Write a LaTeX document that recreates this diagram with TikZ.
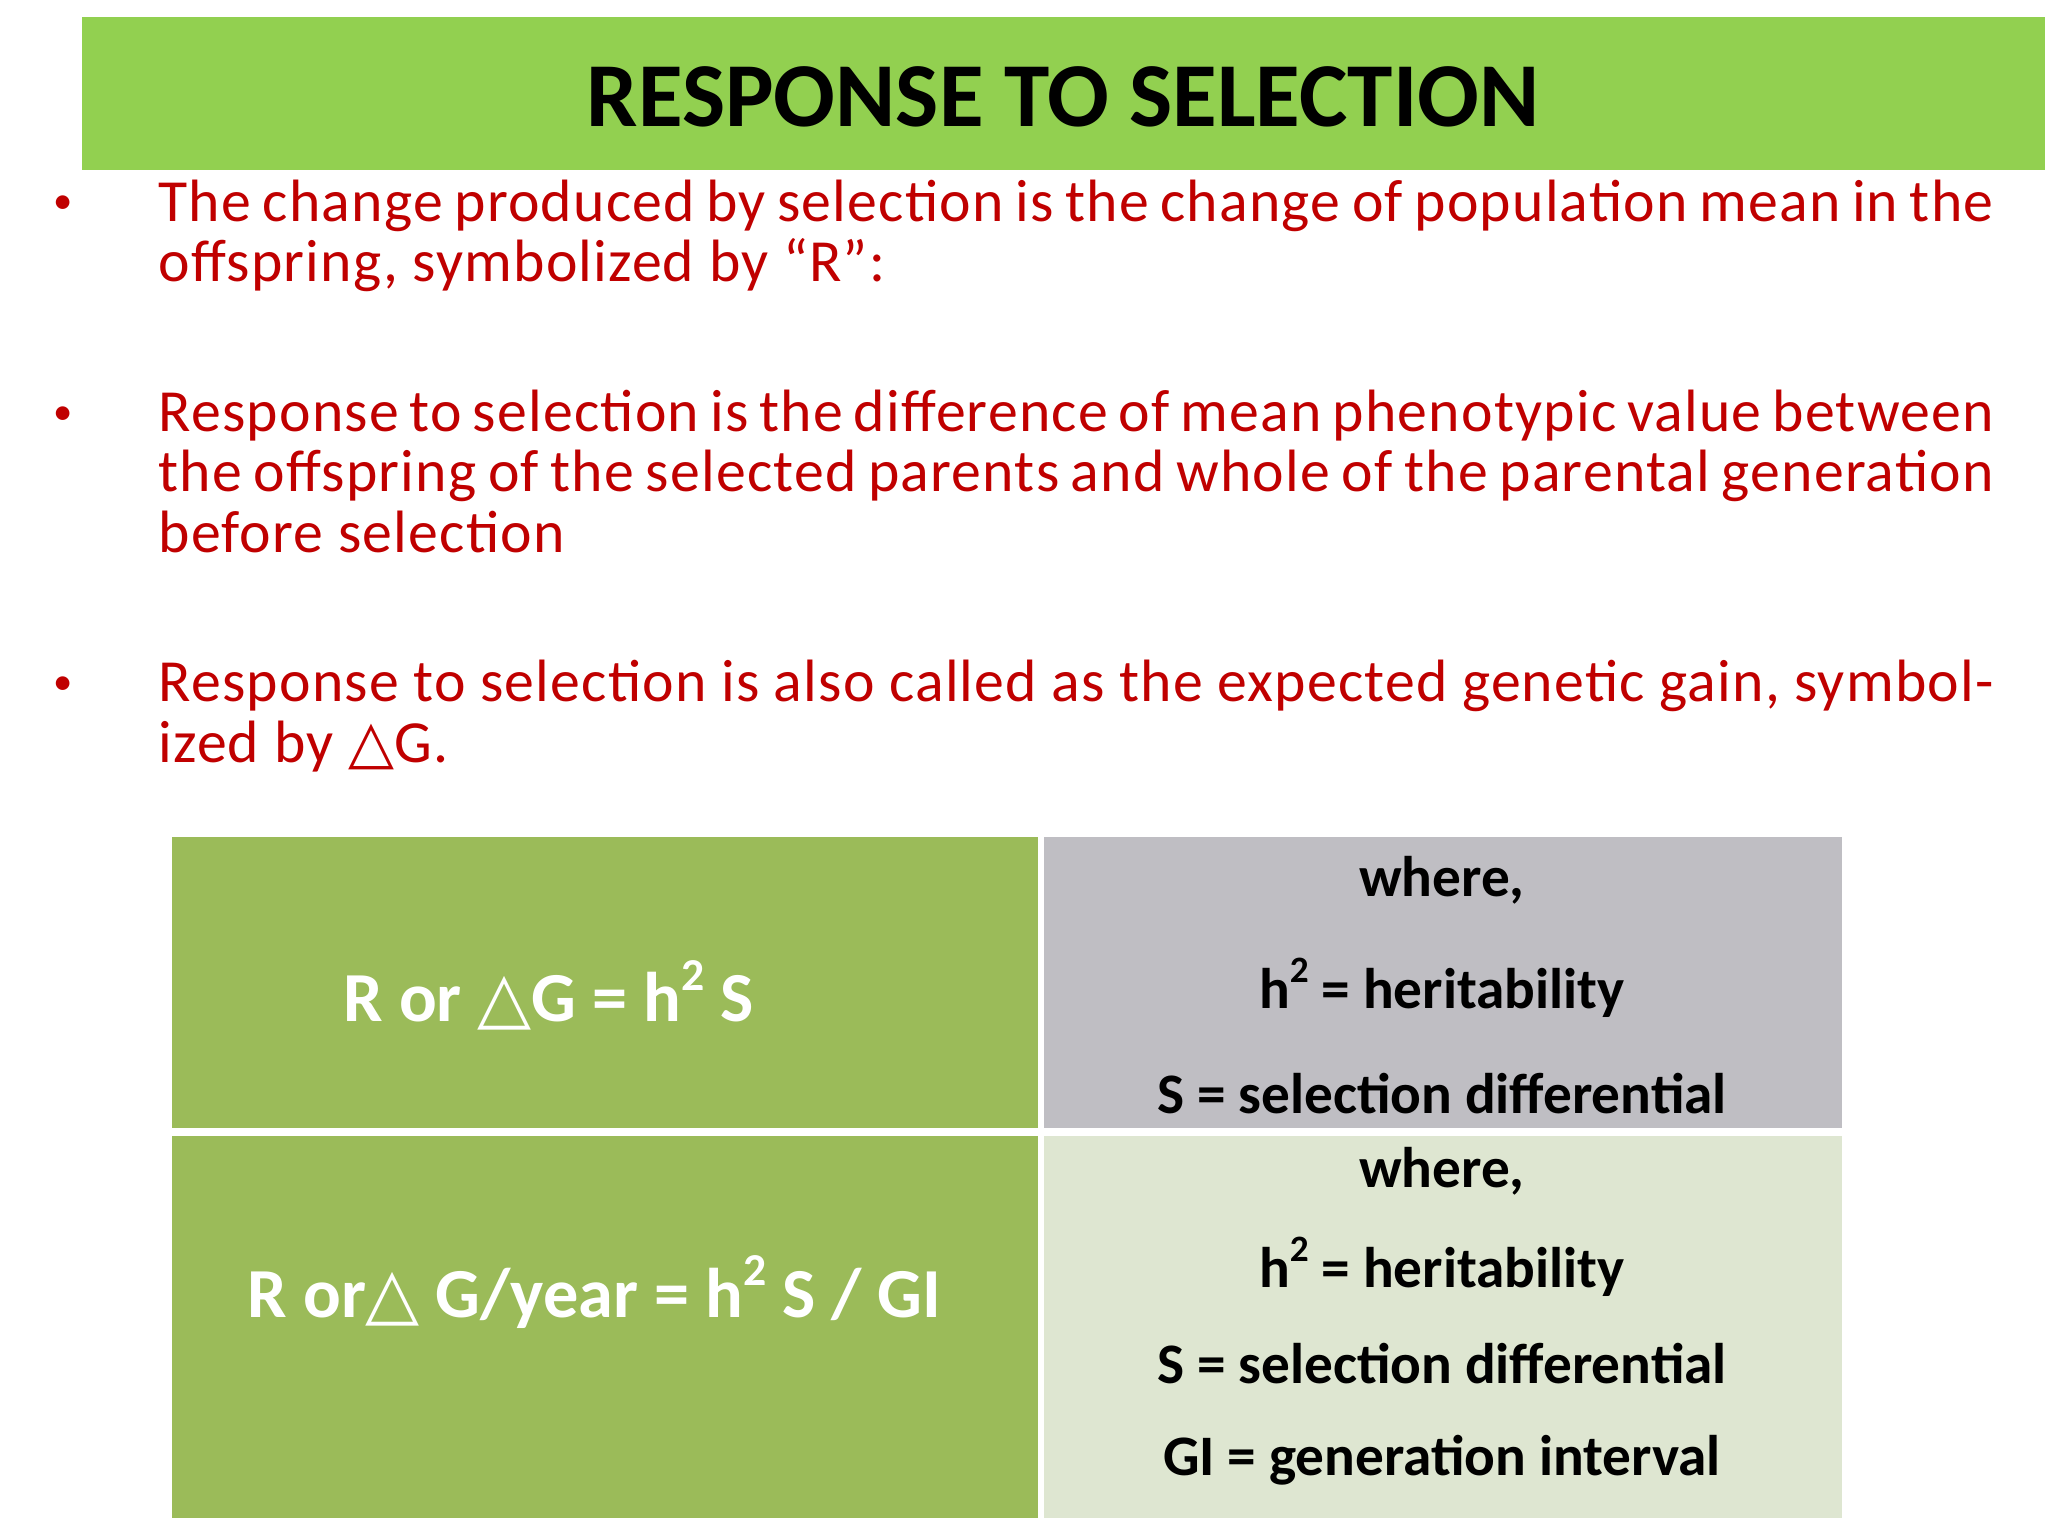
\documentclass[tikz,border=0pt]{standalone}
\usepackage{fontspec}
\setmainfont{Carlito}
\newfontfamily\bodyf[LetterSpace=2]{Carlito}
\newfontfamily\symf{DejaVu Sans}
\newcommand{\tri}{{\symf △}}
\newcommand{\sq}{\raisebox{0.45em}{\scalebox{0.65}{2}}}
\definecolor{titlegreen}{HTML}{92D050}
\definecolor{txtred}{HTML}{C00000}
\definecolor{cellgreen}{HTML}{9BBB59}
\definecolor{cellgrey}{HTML}{BFBEC3}
\definecolor{celllight}{HTML}{DEE6D1}
\begin{document}
\begin{tikzpicture}[x=0.01306cm,y=-0.01306cm,
  bul/.style={anchor=north west,text width=1405*0.01306cm,align=justify,inner sep=0,text=txtred,font=\bodyf\fontsize{17}{17.2}\selectfont},
  dot/.style={anchor=center,text=txtred,font=\fontsize{11}{13}\selectfont},
  lefttxt/.style={text=white,font=\fontsize{20}{24}\selectfont\bfseries},
  righttxt/.style={text=black,font=\fontsize{16.3}{18}\selectfont\bfseries}]
\useasboundingbox (0,0) rectangle (1568,1176);
\fill[white] (0,0) rectangle (1568,1176);
\fill[titlegreen] (63,13) rectangle (1566,130);
\node[font=\fontsize{26}{30}\selectfont\bfseries] (title) at (814,74) {RESPONSE TO SELECTION};
\node[dot] (d1) at (48,157) {•};
\node[bul] (b1) at (121,137) {\hyphenpenalty=10000 The change produced by selection is the change of population mean in the offspring, symbolized by “R”:};
\node[dot] (d2) at (48,318) {•};
\node[bul] (b2) at (121,298) {\hyphenpenalty=10000 Response to selection is the difference of mean phenotypic value between the offspring of the selected parents and whole of the parental generation before selection};
\node[dot] (d3) at (48,525) {•};
\node[bul] (b3) at (121,505) {\hyphenpenalty=10000 Response to selection is also called as the expected genetic gain, symbolized by \tri G.};
\fill[cellgreen] (132,641) rectangle (795,864);
\fill[cellgrey] (799,641) rectangle (1410,864);
\fill[cellgreen] (132,870) rectangle (795,1162);
\fill[celllight] (799,870) rectangle (1410,1162);
\node[lefttxt] (f1) at (420,762) {R or \tri G = h\sq\ S};
\node[lefttxt] (f2) at (455,989) {R or\tri\ G/year = h\sq\ S / GI};
\node[righttxt] (w1) at (1104,674) {where,};
\node[righttxt] (h1) at (1104,756) {h\sq\ = heritability};
\node[righttxt] (s1) at (1104,837) {S = selection differential};
\node[righttxt] (w2) at (1104,897) {where,};
\node[righttxt] (h2) at (1104,970) {h\sq\ = heritability};
\node[righttxt] (s2) at (1104,1044) {S = selection differential};
\node[righttxt] (g2) at (1104,1118) {GI = generation interval};
\end{tikzpicture}
\end{document}
